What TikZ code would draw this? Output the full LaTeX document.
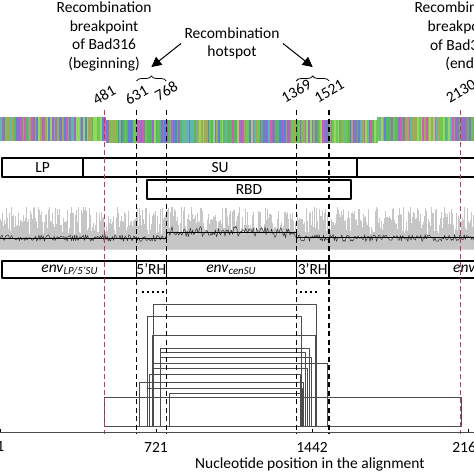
\documentclass[tikz,border=0pt]{standalone}
\usepackage{fontspec}
\setmainfont{Carlito}
\usetikzlibrary{arrows.meta,decorations.pathreplacing}
\definecolor{bpred}{RGB}{200,55,75}
\definecolor{pal1}{RGB}{110,200,80}
\definecolor{pal2}{RGB}{150,215,100}
\definecolor{pal3}{RGB}{90,185,95}
\definecolor{pal4}{RGB}{150,110,200}
\definecolor{pal5}{RGB}{205,95,185}
\definecolor{pal6}{RGB}{95,130,215}
\definecolor{pal7}{RGB}{160,170,90}
\definecolor{pal8}{RGB}{100,180,175}
\tikzset{
  segbox/.style={line width=1.3pt},
  hotdash/.style={line width=1.3pt, dash pattern=on 5pt off 3.5pt},
  bpdash/.style={bpred, line width=0.9pt, dash pattern=on 5pt off 3pt},
  recline/.style={black!70, line width=0.7pt},
  spike/.style={gray!45, line width=0.7pt},
  lbl/.style={font=\fontsize{15.5}{17}\selectfont},
  big/.style={font=\fontsize{15.5}{18.6}\selectfont, align=center},
  arr/.style={line width=1pt, -{Triangle[length=10pt,width=10pt]}}
}
\begin{document}
\begin{tikzpicture}[x=0.2164pt, y=-1pt, line join=round]
\useasboundingbox (0,0) rectangle (2190.4,474);
% titles and hotspot
\node[big] (bpL) at (481,36.5) {Recombination\\breakpoint\\of Bad316\\(beginning)};
\node[big] (bpR) at (2135,36.5) {Recombination\\breakpoint\\of Bad316\\(end)};
\node[big] (hot) at (1072,43.5) {Recombination\\hotspot};
\draw[decorate, decoration={brace, amplitude=5pt}, line width=0.8pt] (631,81) -- (768,81);
\draw[decorate, decoration={brace, amplitude=5pt}, line width=0.8pt] (1369,81) -- (1521,81);
\coordinate (tipL) at (699.5,67);
\coordinate (tipR) at (1445,67);
\draw[arr] (hot.west) -- (tipL);
\draw[arr] (hot.east) -- (tipR);
\foreach \n/\yy in {481/95,631/95,768/91,1369/91,1521/91,2130/91}
  \node[lbl, rotate=30, inner sep=1pt] (n\n) at (\n,\yy) {\n};
% alignment
\pgfmathsetseed{11}
\foreach \x in {0,8,...,2184}{
  \pgfmathrandominteger{\k}{1}{8}
  \pgfmathsetmacro\yt{(\x>=481)*(\x<1742)*2.5+117}
  \fill[pal\k] (\x,\yt) rectangle ++(8.6,23.5);
}
% LP / SU / RBD
\draw[segbox] (9,158) rectangle (384,177);
\draw[segbox] (384,158) rectangle (1650,177);
\draw[segbox] (1650,158) rectangle (2215,177);
\node[lbl] (lp) at (196.5,167.5) {LP};
\node[lbl] (su) at (1017,167.5) {SU};
\draw[segbox] (679,180) rectangle (1622,199);
\node[lbl] (rbd) at (1150.5,189.5) {RBD};
% variability plot
\fill[gray!30] (0,236) rectangle (2190,250);
\foreach \x in {0,4,...,2190}{
  \pgfmathsetmacro\yt{207+27*rnd}
  \draw[spike] (\x,249) -- (\x,\yt);
}
\draw[black!80, line width=0.5pt] (0,238) \foreach \x in {5,10,...,2190}{ -- (\x,{238-3.5*rand-(\x>768)*(\x<1369)*(3+6*rnd)}) };
\draw[line width=0.9pt] (0,238) -- (768,238) -- (768,232) -- (1369,232) -- (1369,237) -- (2190,237);
% env segments
\draw[segbox] (9,261) rectangle (2215,278);
\foreach \b in {631,768,1369,1521} \draw[segbox] (\b,261) -- (\b,278);
\node[lbl] (envA) at (322,270) {\textit{env}\textsubscript{\textit{LP/5’SU}}};
\node[lbl] (rh5) at (699.5,269.5) {5’RH};
\node[lbl] (envB) at (1068.5,270) {\textit{env}\textsubscript{\textit{cenSU}}};
\node[lbl] (rh3) at (1445,269.5) {3’RH};
\node[lbl, anchor=west] (envC) at (2078,270) {\textit{env}\textsubscript{\textit{3’SU/TM}}};
\draw[line width=2.2pt, dash pattern=on 2pt off 3pt] (655,292) -- (765,292);
\draw[line width=2.2pt, dash pattern=on 2pt off 3pt] (1385,292) -- (1470,292);
% recombinant fragments
\foreach \s/\e/\t in {707/1460/304, 679/1391/316, 702/1455/335, 739/1430/348, 739/1410/352,
    739/1440/357, 702/1511/363, 707/1420/368, 689/1386/374, 642/1400/382, 679/1395/388,
    781/1386/393, 481/2130/397}
  \draw[recline] (\s,426) rectangle (\e,\t);
% breakpoints
\foreach \b in {631,768,1369,1521} \draw[hotdash] (\b,110) -- (\b,434);
\foreach \b in {481,2130} \draw[bpdash] (\b,110) -- (\b,434);
% axis
\draw[line width=0.8pt, black!70] (0,432) -- (2200,432);
\foreach \t in {1,721,1442,2163}{
  \draw[line width=0.8pt] (\t,432) -- (\t,428.5);
  \node[lbl] (t\t) at (\t,447) {\t};
}
\node[lbl] (xlab) at (1432,464) {Nucleotide position in the alignment};
\end{tikzpicture}
\end{document}
